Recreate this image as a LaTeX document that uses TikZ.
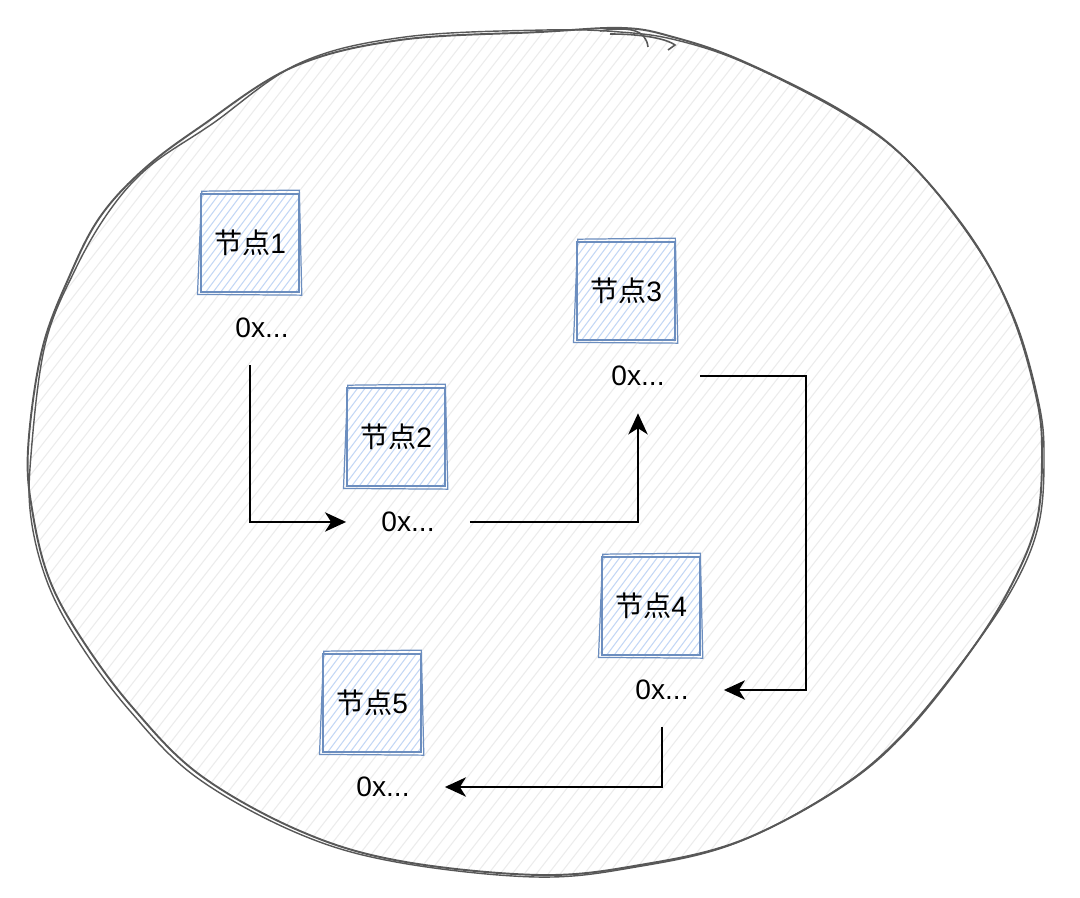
\documentclass[tikz,border=0pt]{standalone}
\usepackage{fontspec}
\setmainfont{Liberation Sans}
\newfontfamily\cjk{Noto Sans CJK SC}
\usetikzlibrary{arrows.meta,calc}

\begin{document}
\begin{tikzpicture}[x=0.02cm, y=-0.02cm, >={Stealth[length=12pt,width=11pt,inset=3.5pt]}]

	% ==========================================
	% 1. COLOURS
	% ==========================================
	\definecolor{edgecol}{RGB}{88, 88, 88}      % outline of the cluster
	\definecolor{hatchcol}{RGB}{236, 236, 236}  % grey hachure
	\definecolor{boxcol}{RGB}{108, 142, 191}    % box border
	\definecolor{boxhatch}{RGB}{196, 216, 246}  % blue hachure

	% ==========================================
	% 2. STYLES
	% ==========================================
	\tikzset{
		nodebox/.style={draw=boxcol, fill=white, line width=1.6pt,
			minimum width=1.96cm, minimum height=1.96cm, inner sep=0pt,
			font=\fontsize{16pt}{19pt}\selectfont,
			path picture={
				\foreach \k in {-13,...,13}
					\draw[boxhatch, line width=0.6pt] ([xshift=\k*0.15cm]path picture bounding box.center) ++(-1.2cm,-1.6cm) -- ++(2.4cm,3.2cm);
			}},
		addr/.style={inner xsep=0.7cm, inner ysep=0.54cm, font=\fontsize{16pt}{19pt}\selectfont},
		flow/.style={->, line width=1.2pt}
	}

	\fill[white] (0,0) rectangle (1080,898);
	\useasboundingbox (0,0) rectangle (1080,898);

	% ==========================================
	% 3. CLUSTER (HATCHED BLOB)
	% ==========================================
	\begin{scope}
		\clip plot[smooth cycle, tension=0.6] coordinates {(28,450) (42,350) (70,275) (100,217) (143,170) (200,127) (293,67) (400,40) (540,32) (623,28) (673,37) (740,60) (840,110) (907,160) (973,240) (1013,317) (1037,400) (1042,455) (1037,520) (1015,578) (975,645) (907,731) (840,788) (740,841) (640,865) (540,875) (400,861) (300,831) (200,775) (133,708) (83,641) (50,581) (33,515)};
		\foreach \i in {-60,...,95} {
			\draw[hatchcol, line width=0.6pt] (\i*12, 900) -- ++(700,-900);
		}
	\end{scope}

	% outline, drawn twice by hand
	\draw[edgecol, line width=1.1pt] plot[smooth cycle, tension=0.6] coordinates {(28,450) (42,350) (70,275) (100,217) (143,170) (200,127) (293,67) (400,40) (540,32) (623,28) (673,37) (740,60) (840,110) (907,160) (973,240) (1013,317) (1037,400) (1042,455) (1037,520) (1015,578) (975,645) (907,731) (840,788) (740,841) (640,865) (540,875) (400,861) (300,831) (200,775) (133,708) (83,641) (50,581) (33,515)};
	\draw[edgecol, line width=0.8pt] plot[smooth cycle, tension=0.6] coordinates {(31,455) (45,345) (75,270) (110,210) (150,166) (212,124) (300,63) (405,37) (545,30) (620,32) (676,40) (745,63) (843,113) (910,163) (975,244) (1015,320) (1039,404) (1044,458) (1039,523) (1016,582) (972,649) (903,734) (836,790) (736,843) (636,867) (536,877) (396,862) (297,833) (196,777) (130,711) (80,644) (48,584) (31,518)};
	\draw[edgecol, line width=0.9pt] (600,31) .. controls (630,26) and (646,30) .. (648,47);
	\draw[edgecol, line width=0.9pt] (610,34) .. controls (640,34) and (665,38) .. (675,45) -- (668,50);

	% ==========================================
	% 4. NODES
	% ==========================================
	\node[nodebox] (box1) at (250,243) {{\cjk 节点}1};
	\node[nodebox] (box2) at (396,437) {{\cjk 节点}2};
	\node[nodebox] (box3) at (626,291) {{\cjk 节点}3};
	\node[nodebox] (box4) at (651,606) {{\cjk 节点}4};
	\node[nodebox] (box5) at (372,703) {{\cjk 节点}5};

	% second, rougher stroke round each box
	\foreach \n in {1,...,5} {
		\draw[boxcol, line width=0.7pt] ([shift={(1.2pt,0.8pt)}]box\n.north west) -- ([shift={(-0.6pt,1.4pt)}]box\n.north east) -- ([shift={(0.8pt,-1pt)}]box\n.south east) -- ([shift={(-1.2pt,-0.6pt)}]box\n.south west) -- cycle;
	}

	\node[addr] (addr1) at (262,328) {0x...};
	\node[addr] (addr2) at (408,522) {0x...};
	\node[addr] (addr3) at (638,376) {0x...};
	\node[addr] (addr4) at (662,690) {0x...};
	\node[addr] (addr5) at (383,787) {0x...};

	% ==========================================
	% 5. LINKS
	% ==========================================
	\draw[flow] (addr1.south -| box1.south) |- (addr2.west);
	\draw[flow] (addr2.east) -| (addr3.south);
	\draw[flow] (addr3.east) -- ++(106,0) |- (addr4.east);
	\draw[flow] (addr4.south) |- (addr5.east);

\end{tikzpicture}
\end{document}
